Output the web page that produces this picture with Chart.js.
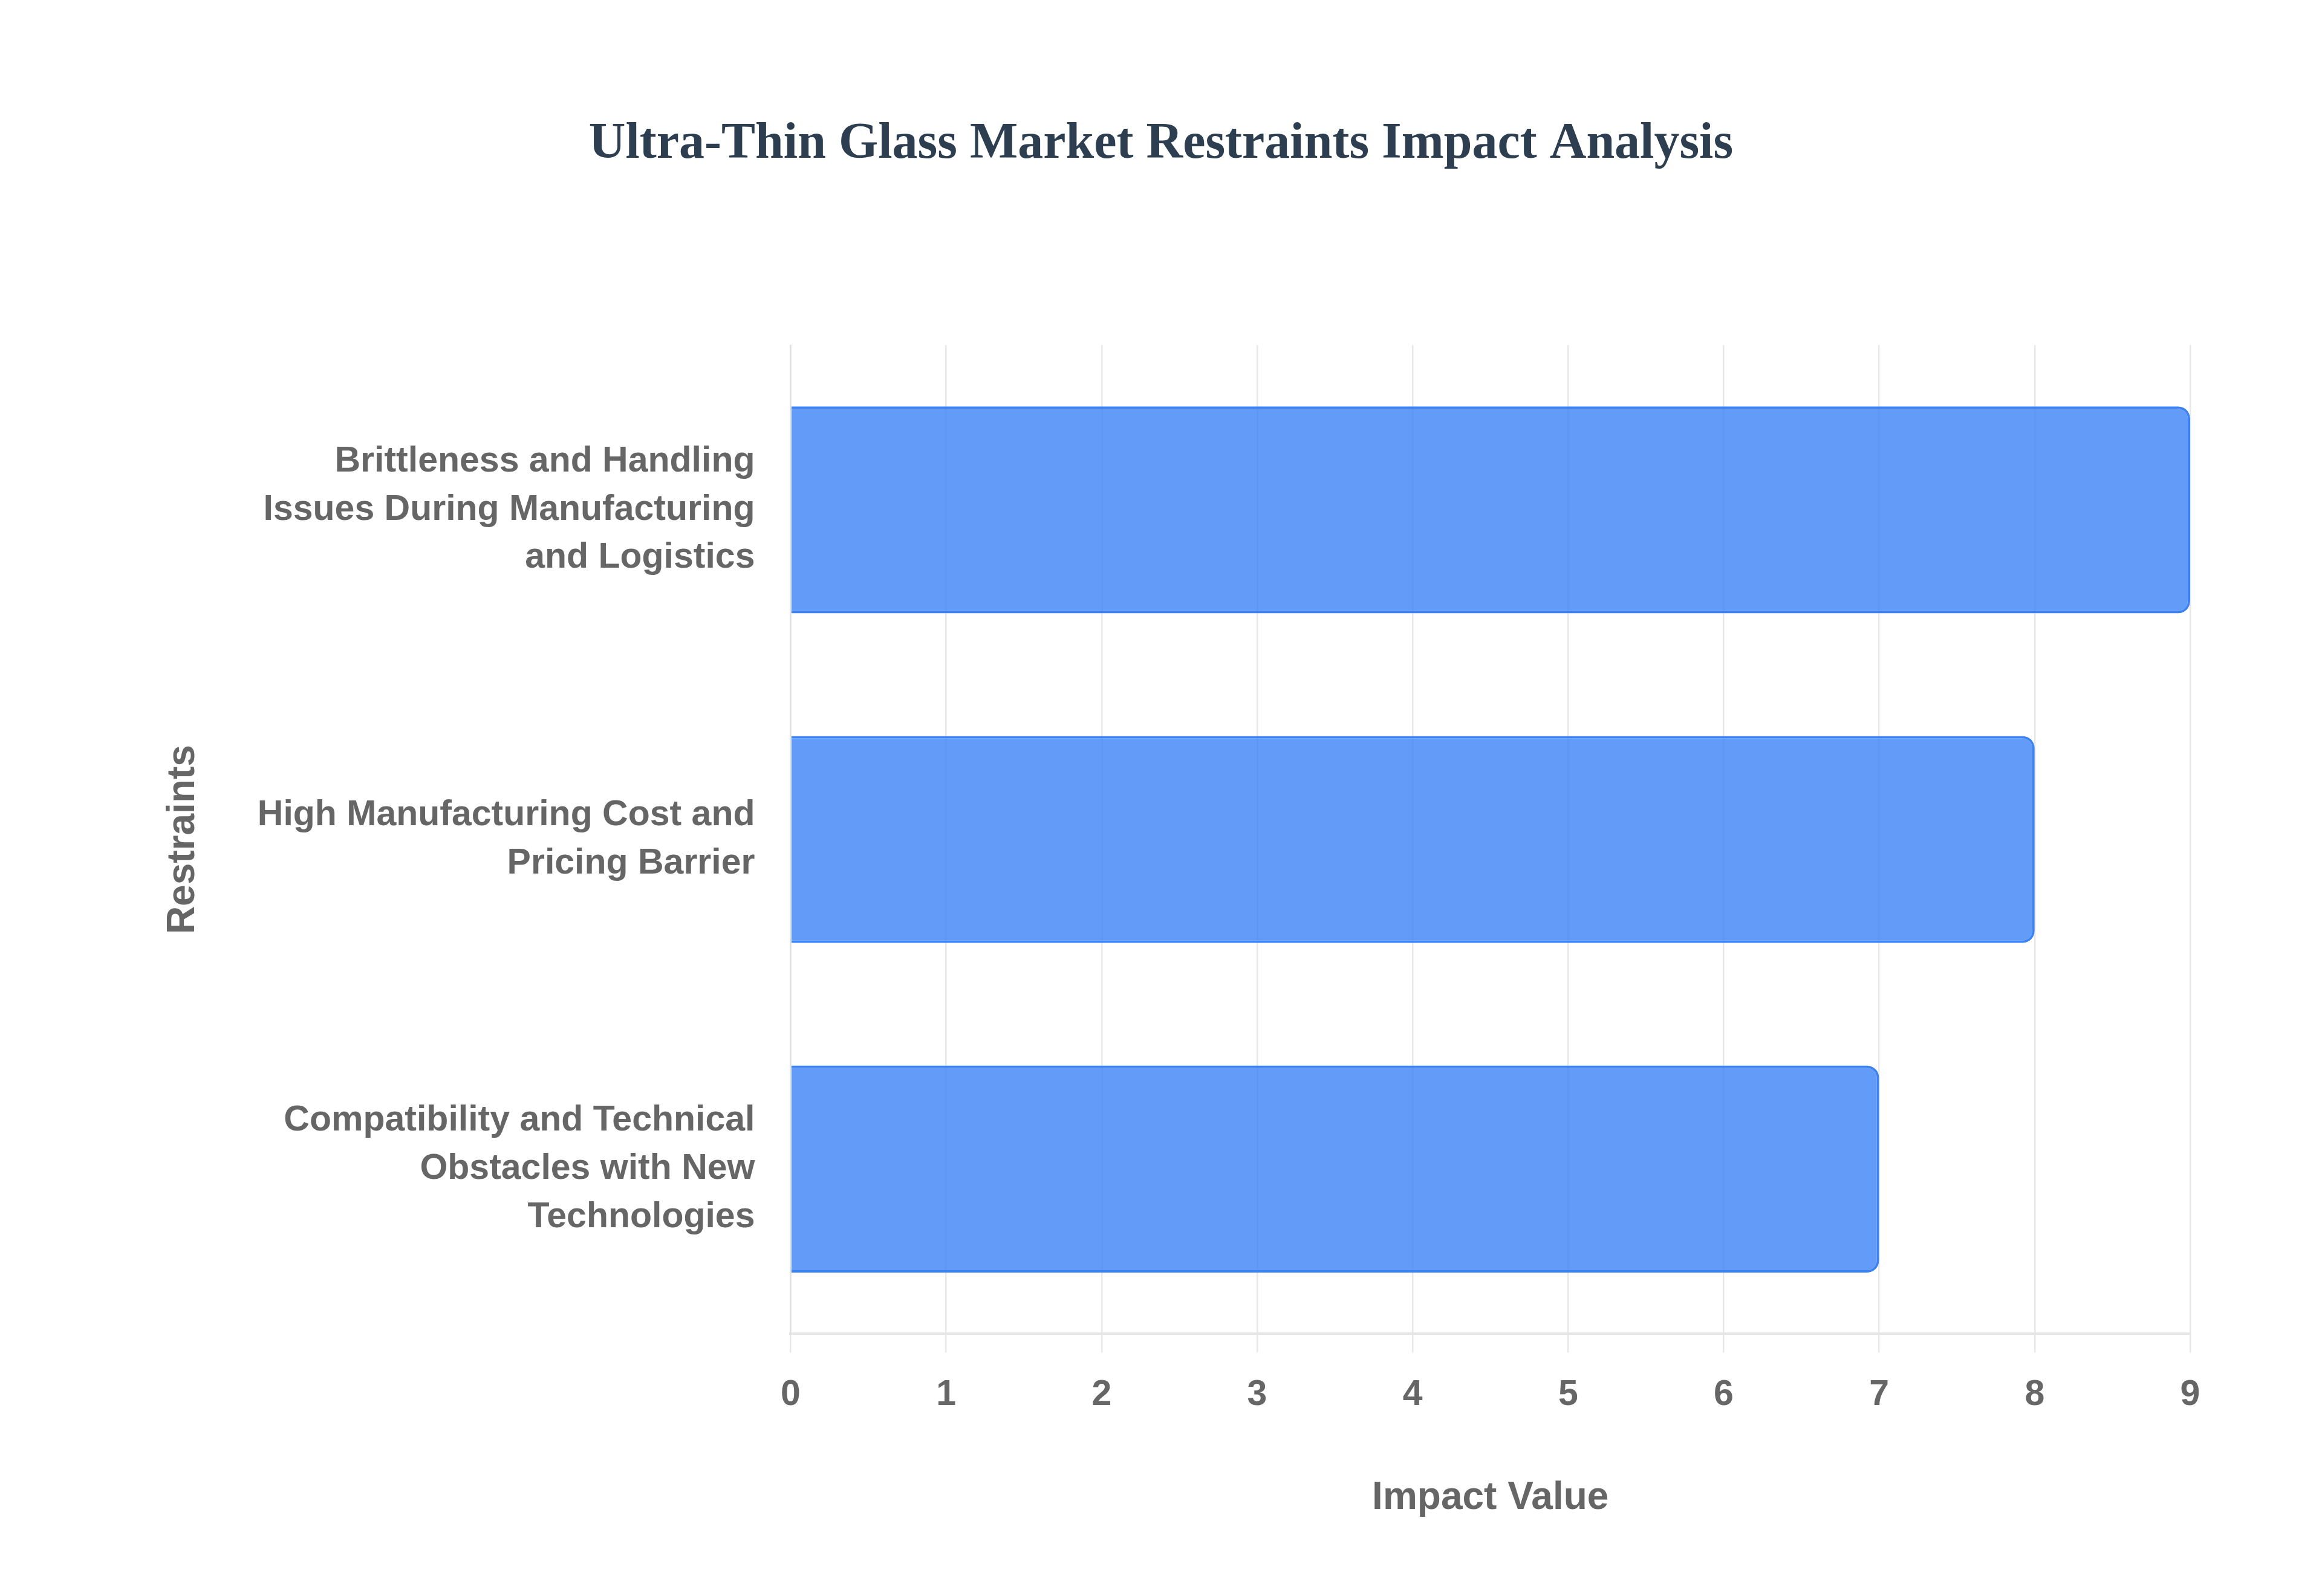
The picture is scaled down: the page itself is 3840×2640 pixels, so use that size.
<!DOCTYPE html>
<html>
<head>
<meta charset="utf-8">
<title>Ultra-Thin Glass Market Restraints Impact Analysis</title>
<script src="https://cdn.jsdelivr.net/npm/chart.js@4"></script>
<style>
    html, body { margin: 0; padding: 0; background: #ffffff; }
    #wrap { width: 3840px; height: 2640px; position: relative; }
</style>
</head>
<body>
<div id="wrap"><canvas id="restraints-chart"></canvas></div>
<script>
// restraint names, already split into the lines shown on the axis
var restraintLabels = [
    ['Brittleness and Handling', 'Issues During Manufacturing', 'and Logistics'],
    ['High Manufacturing Cost and', 'Pricing Barrier'],
    ['Compatibility and Technical', 'Obstacles with New', 'Technologies']
]
var impactValues = [9, 8, 7]
var impactTicks = [0, 1, 2, 3, 4, 5, 6, 7, 8, 9]

var sansFont = "Arial, 'Liberation Sans', Helvetica, sans-serif"
var labelGrey = '#666666'

var ctxRestraints = document.getElementById('restraints-chart').getContext('2d');

let restraintsChart = new Chart(ctxRestraints, {
    type: 'bar',
    data: {
        labels: restraintLabels,
        datasets: [{
            label: 'Impact Value',
            data: impactValues,
            backgroundColor: 'rgba(59, 130, 246, 0.8)',
            borderColor: 'rgb(59, 130, 246)',
            borderWidth: 4,
            borderRadius: 20,
            borderSkipped: 'start',
            categoryPercentage: 0.8,
            barPercentage: 0.785
        }]
    },
    options: {
        indexAxis: 'y',
        responsive: true,
        maintainAspectRatio: false,
        devicePixelRatio: 1,
        animation: false,
        layout: {
            padding: { left: 218, right: 218, top: 0, bottom: 0 }
        },
        plugins: {
            legend: { display: false },
            tooltip: { enabled: false },
            title: {
                display: true,
                text: 'Ultra-Thin Glass Market Restraints Impact Analysis',
                color: '#2c3e50',
                font: { family: "'Times New Roman', 'Liberation Serif', serif", size: 84, weight: 'bold', lineHeight: 1.2 },
                padding: { top: 189, bottom: 281 }
            }
        },
        scales: {
            x: {
                min: impactTicks[0],
                max: impactTicks[impactTicks.length - 1],
                afterBuildTicks: function (axis) {
                    axis.ticks = impactTicks.map(v => ({ value: v }))
                },
                grid: {
                    color: '#e8e8e8',
                    lineWidth: 2.5,
                    tickLength: 31
                },
                border: { color: '#e6e6e6', width: 4 },
                ticks: {
                    color: labelGrey,
                    padding: 35,
                    font: { family: sansFont, size: 59, weight: 'bold', lineHeight: 1.2 }
                },
                title: {
                    display: true,
                    text: 'Impact Value',
                    color: labelGrey,
                    font: { family: sansFont, size: 64, weight: 'bold', lineHeight: 1.2 },
                    padding: { top: 62, bottom: 123 }
                }
            },
            y: {
                grid: { display: false, drawTicks: false },
                border: { color: '#e0e0e0', width: 2.5 },
                ticks: {
                    color: labelGrey,
                    padding: 59,
                    font: { family: sansFont, size: 59, weight: 'bold', lineHeight: 1.35 }
                },
                title: {
                    display: true,
                    text: 'Restraints',
                    color: labelGrey,
                    font: { family: sansFont, size: 64, weight: 'bold', lineHeight: 1.2 },
                    padding: { top: 47, bottom: 25 }
                }
            }
        }
    }
})
</script>
</body>
</html>
